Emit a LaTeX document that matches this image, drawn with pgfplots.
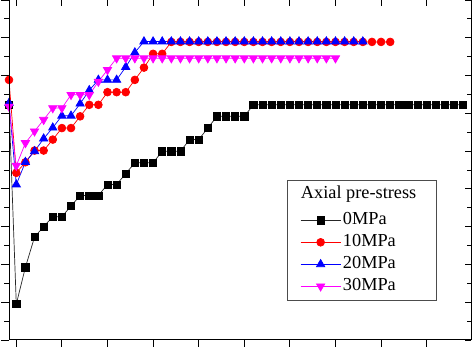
\documentclass[border=0pt]{standalone}
\usepackage{pgfplots}
\pgfplotsset{compat=1.18}
\usepackage{fontspec}
\setmainfont{Liberation Serif}
\definecolor{mag}{RGB}{255,0,255}
\begin{document}
\begin{tikzpicture}
\begin{axis}[
  scale only axis, width=462pt, height=340pt,
  xmin=-0.8, xmax=49.86, ymin=0, ymax=18,
  xtick={0,5,...,45}, ytick={0,2,...,18}, minor y tick num=1,
  xticklabels={}, yticklabels={},
  xtick pos=bottom, ytick pos=left, tick align=outside,
  major tick length=8pt, minor tick length=5pt,
  axis line style={line width=1pt}, every tick/.style={line width=0.9pt, black},
  legend cell align=left,
  legend image code/.code={\draw[mark repeat=2,mark phase=2] plot coordinates {(0pt,0pt)(20pt,0pt)(40pt,0pt)};},
  legend style={at={(0.6017,0.4706)}, anchor=north west, draw=black!70, line width=0.6pt,
    font=\fontsize{18.3}{20}\selectfont, inner xsep=13pt, inner ysep=3pt, row sep=0pt,
    nodes={inner sep=2pt, text height=13pt, text depth=5pt}},
]
\coordinate (A) at (rel axis cs:0,0);
\coordinate (B) at (rel axis cs:1,1);
\addlegendimage{empty legend}
\addlegendentry[text depth=9pt]{\hspace*{-42pt}Axial pre-stress\hspace*{5pt}}
\addplot[black!85, line width=0.7pt, mark=square*, mark size=3.6pt, mark options={black, solid}] coordinates {
(-0.8,12.45)(0,1.90)(1,3.85)(2,5.45)(3,6.00)(4,6.53)(5,6.53)(6,7.09)(7,7.65)(8,7.65)(9,7.65)
(10,8.23)(11,8.23)(12,8.81)(13,9.38)(14,9.38)(15,9.38)(16,9.99)(17,9.99)(18,9.99)(19,10.61)
(20,10.61)(21,11.22)(22,11.84)(23,11.84)(24,11.84)(25,11.84)(26,12.45)(27,12.45)(28,12.45)(29,12.45)
(30,12.45)(31,12.45)(32,12.45)(33,12.45)(34,12.45)(35,12.45)(36,12.45)(37,12.45)(38,12.45)(39,12.45)
(40,12.45)(41,12.45)(42,12.45)(43,12.45)(44,12.45)(45,12.45)(46,12.45)(47,12.45)(48,12.45)(49,12.45)
};
\addlegendentry{0MPa}
\addplot[red, line width=0.7pt, mark=*, mark size=3.9pt, mark options={red, solid}] coordinates {
(-0.8,13.77)(0,8.85)(1,9.41)(2,10.03)(3,10.03)(4,10.61)(5,11.22)(6,11.22)(7,11.84)(8,12.45)(9,12.45)
(10,13.12)(11,13.12)(12,13.12)(13,13.77)(14,14.42)(15,15.15)(16,15.15)(17,15.78)(18,15.78)(19,15.78)
(20,15.78)(21,15.78)(22,15.78)(23,15.78)(24,15.78)(25,15.78)(26,15.78)(27,15.78)(28,15.78)(29,15.78)
(30,15.78)(31,15.78)(32,15.78)(33,15.78)(34,15.78)(35,15.78)(36,15.78)(37,15.78)(38,15.78)(39,15.78)
(40,15.78)(41,15.78)
};
\addlegendentry{10MPa}
\addplot[blue, line width=0.7pt, mark=triangle*, mark size=4.8pt, mark options={blue, solid}] coordinates {
(-0.8,12.54)(0,8.23)(1,9.42)(2,9.99)(3,10.66)(4,11.24)(5,11.87)(6,11.87)(7,12.51)(8,13.22)(9,13.77)
(10,13.77)(11,13.77)(12,14.45)(13,15.22)(14,15.80)(15,15.80)(16,15.80)(17,15.80)(18,15.80)(19,15.80)
(20,15.80)(21,15.80)(22,15.80)(23,15.80)(24,15.80)(25,15.80)(26,15.80)(27,15.80)(28,15.80)(29,15.80)
(30,15.80)(31,15.80)(32,15.80)(33,15.80)(34,15.80)(35,15.80)(36,15.80)(37,15.80)(38,15.80)
};
\addlegendentry{20MPa}
\addplot[mag, line width=0.7pt, mark=triangle*, mark size=4.8pt, mark options={mag, solid, rotate=180}] coordinates {
(-0.8,12.36)(0,9.23)(1,10.43)(2,11.05)(3,11.66)(4,12.28)(5,12.28)(6,12.98)(7,12.98)(8,12.98)(9,13.68)
(10,14.30)(11,14.92)(12,14.92)(13,14.92)(14,14.92)(15,14.92)(16,14.92)(17,14.92)(18,14.92)(19,14.92)
(20,14.92)(21,14.92)(22,14.92)(23,14.92)(24,14.92)(25,14.92)(26,14.92)(27,14.92)(28,14.92)(29,14.92)
(30,14.92)(31,14.92)(32,14.92)(33,14.92)(34,14.92)(35,14.92)
};
\addlegendentry{30MPa}
\end{axis}
\begin{axis}[
  scale only axis, width=462pt, height=340pt,
  xmin=-0.8, xmax=49.86, ymin=0, ymax=18,
  xtick={0,5,...,45}, ytick={0,2,...,18}, minor y tick num=1,
  xticklabels={}, yticklabels={},
  xtick pos=top, ytick pos=right, tick align=inside,
  major tick length=6.5pt, minor tick length=4pt,
  axis line style={line width=1pt}, every tick/.style={line width=0.9pt, black},
]
\end{axis}
\pgfresetboundingbox
\path ([shift={(-9pt,-7pt)}]A) rectangle ([shift={(3pt,0pt)}]B);
\end{tikzpicture}
\end{document}
